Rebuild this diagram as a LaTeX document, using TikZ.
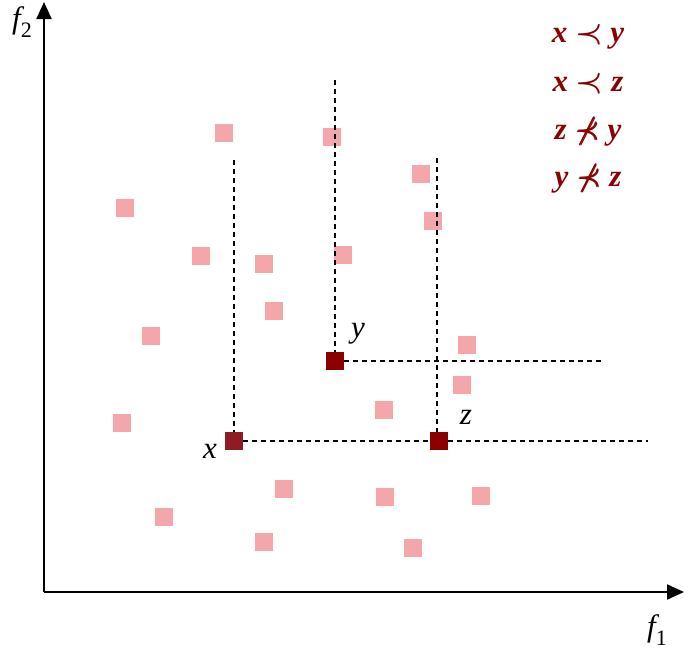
\RequirePackage{fix-cm}
\documentclass[tikz,border=0pt]{standalone}
\usepackage{amsmath,amssymb,bm}
\usepackage{fontspec}
\setmainfont{Liberation Serif}
\usetikzlibrary{arrows.meta}
\definecolor{pinksq}{HTML}{F4A7AA}
\definecolor{darksq}{HTML}{8B0000}
\definecolor{darkx}{HTML}{8E1C22}
\newcommand{\subsc}[1]{\raisebox{-0.3em}{\fontsize{22}{22}\selectfont\upshape #1}}
\begin{document}
\begin{tikzpicture}[x=1pt,y=-1pt,
  pt/.style={fill=pinksq,draw=none,minimum size=18pt,inner sep=0pt},
  dpt/.style={fill=darksq,draw=none,minimum size=18pt,inner sep=0pt},
  axis/.style={line width=2pt,-{Triangle[length=17pt,width=15pt]}},
  guide/.style={line width=1.5pt,dash pattern=on 5pt off 4pt},
  lbl/.style={font=\fontsize{31}{31}\selectfont\itshape,inner sep=0pt},
  rel/.style={font=\fontsize{31}{31}\selectfont\bfseries\itshape,text=darksq,inner sep=0pt}]
\useasboundingbox (0,0) rectangle (685,653);
% axes
\coordinate (o) at (44,592);
\coordinate (ytop) at (44,2);
\coordinate (xend) at (684,592);
\draw[axis] (o) -- (ytop);
\draw[axis] (o) -- (xend);
\node[lbl] (f2) at (22,22) {f\subsc{2}};
\node[lbl] (f1) at (657,630) {f\subsc{1}};
% pink points
\foreach \i/\p in {1/{224,133},2/{332,137},3/{421,174},4/{125,208},5/{433,221},
  6/{201,256},7/{264,264},8/{343,255},9/{274,311},10/{151,336},11/{467,345},
  12/{462,385},13/{384,410},14/{122,423},15/{284,489},16/{385,497},17/{481,496},
  18/{164,517},19/{264,542},20/{413,548}}
  \node[pt] (p\i) at (\p) {};
% dashed guides
\coordinate (xt) at (234,160);
\coordinate (yt) at (335,80);
\coordinate (zt) at (437,158);
\coordinate (yr) at (603,361);
\coordinate (xr) at (648,441);
\node[dpt] (y) at (335,361) {};
\node[dpt] (z) at (439,441) {};
\node[dpt,fill=darkx] (x) at (234,441) {};
\draw[guide] (xt) -- (x.north);
\draw[guide] (yt) -- (y.north);
\draw[guide] (zt) -- (z.north -| zt);
\draw[guide] (y.east) -- (yr);
\draw[guide] (x.east) -- (z.west);
\draw[guide] (z.east) -- (xr);
% labels
\node[lbl] (xl) at (210,451) {x};
\node[lbl] (yl) at (358,334) {y};
\node[lbl] (zl) at (466,417) {z};
% relations
\node[rel] (r1) at (588,37) {x $\boldsymbol{\prec}$ y};
\node[rel] (r2) at (588,84) {x $\boldsymbol{\prec}$ z};
\node[rel] (r3) at (588,131) {z $\boldsymbol{\nprec}$ y};
\node[rel] (r4) at (588,178) {y $\boldsymbol{\nprec}$ z};
\end{tikzpicture}
\end{document}
